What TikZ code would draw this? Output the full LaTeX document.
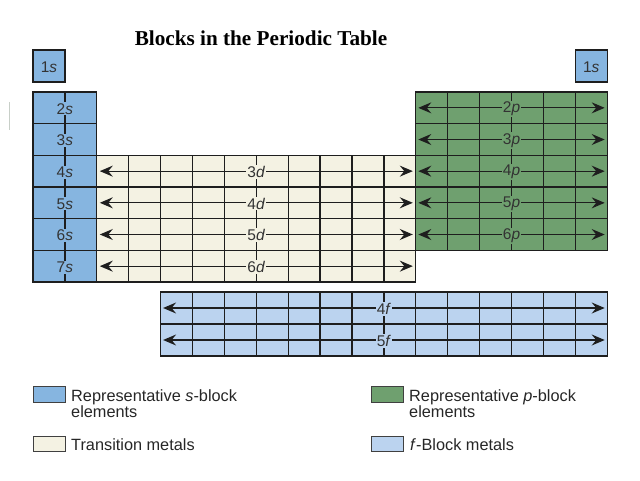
\documentclass[tikz,border=0pt]{standalone}
\usepackage{fontspec}
\setmainfont{Liberation Sans}
\newfontfamily\titlefont{Liberation Serif}
\usetikzlibrary{arrows.meta}
\definecolor{sblue}{HTML}{86B5E0}
\definecolor{pgreen}{HTML}{6FA06F}
\definecolor{dcream}{HTML}{F4F2E3}
\definecolor{fblue}{HTML}{BBD3EF}
\definecolor{gridc}{HTML}{1E1E1E}
\tikzset{
  gridline/.style={draw=gridc, line width=1.25pt},
  dblarrow/.style={draw=gridc, line width=1.25pt, {Stealth[length=13pt,width=11pt,inset=4.5pt]}-{Stealth[length=13pt,width=11pt,inset=4.5pt]}},
  cell/.style={font=\fontsize{15.5}{15.5}\selectfont, text=black!80, inner sep=1pt},
  legtext/.style={font=\fontsize{16.3}{16}\selectfont, text=black!85, inner sep=0pt, align=left},
  legbox/.style={draw=black!75, line width=1pt}
}
\begin{document}
\begin{tikzpicture}[x=1pt,y=-1pt]
\useasboundingbox (0,0) rectangle (640,480);
\def\W{31.9}
\def\H{31.67}
% title
\node[font=\titlefont\bfseries\fontsize{21.2}{21}\selectfont, anchor=base] (title) at (261,45) {Blocks in the Periodic Table};
% artifact
\draw[color=black!15!green!8!gray!40, line width=1pt] (9,102) -- (9,130);
% fills
\fill[sblue] (33,92) rectangle (96.8,282);
\fill[dcream] (96.8,155.3) rectangle (415.8,282);
\fill[pgreen] (415.8,92) rectangle (607.2,250.3);
\fill[fblue] (160.6,292) rectangle (607.2,356);
\fill[sblue] (33,50) rectangle (64.9,82);
\fill[sblue] (575.3,50) rectangle (607.2,82);
% 1s boxes
\draw[gridline] (33,50) rectangle (64.9,82);
\draw[gridline] (575.3,50) rectangle (607.2,82);
\node[cell, fill=sblue] (s1a) at (48.95,67) {1\textit{s}};
\node[cell, fill=sblue] (s1b) at (591.25,67) {1\textit{s}};
% s-block grid
\draw[gridline] (33,92) rectangle (96.8,282);
\foreach \r in {1,...,5} \draw[gridline] (33,92+\r*\H) -- (96.8,92+\r*\H);
\draw[gridline] (64.9,92) -- (64.9,282);
% d-block grid
\draw[gridline] (96.8,155.3) rectangle (415.8,282);
\foreach \r in {1,...,3} \draw[gridline] (96.8,155.3+\r*\H) -- (415.8,155.3+\r*\H);
\foreach \k in {3,...,11} \draw[gridline] (33+\k*\W,155.3) -- (33+\k*\W,282);
% p-block grid
\draw[gridline] (415.8,92) rectangle (607.2,250.3);
\foreach \r in {1,...,4} \draw[gridline] (415.8,92+\r*\H) -- (607.2,92+\r*\H);
\foreach \k in {13,...,17} \draw[gridline] (33+\k*\W,92) -- (33+\k*\W,250.3);
% f-block grid
\draw[gridline] (160.6,292) rectangle (607.2,356);
\draw[gridline] (160.6,324) -- (607.2,324);
\foreach \k in {5,...,17} \draw[gridline] (33+\k*\W,292) -- (33+\k*\W,356);
% d arrows
\foreach \n [count=\i from 0] in {3,4,5,6} {
  \coordinate (dl\n) at (99.8,155.3+\i*\H+0.5*\H);
  \coordinate (dr\n) at (412.8,155.3+\i*\H+0.5*\H);
  \draw[dblarrow] (dl\n) -- (dr\n);
}
% p arrows
\foreach \n [count=\i from 0] in {2,3,4,5,6} {
  \coordinate (pl\n) at (418.3,92+\i*\H+0.5*\H);
  \coordinate (pr\n) at (604.7,92+\i*\H+0.5*\H);
  \draw[dblarrow] (pl\n) -- (pr\n);
}
% f arrows
\foreach \n [count=\i from 0] in {4,5} {
  \coordinate (fl\n) at (163.1,308+\i*32);
  \coordinate (fr\n) at (604.7,308+\i*32);
  \draw[dblarrow] (fl\n) -- (fr\n);
}
% labels
\foreach \n [count=\i from 0] in {2,...,7}
  \node[cell, fill=sblue] (s\n) at (64.9,93+\i*\H+0.5*\H) {\n\textit{s}};
\foreach \n [count=\i from 0] in {3,4,5,6}
  \node[cell, fill=dcream] (d\n) at (33+7*\W,156+\i*\H+0.5*\H) {\n\textit{d}};
\foreach \n [count=\i from 0] in {2,...,6}
  \node[cell, fill=pgreen] (p\n) at (33+15*\W,93+\i*\H+0.5*\H) {\n\textit{p}};
\foreach \n [count=\i from 0] in {4,5}
  \node[cell, fill=fblue] (f\n) at (33+11*\W,309+\i*32) {\n\textit{f}};
% legend
\draw[legbox, fill=sblue] (33,386) rectangle (65,402);
\node[legtext, anchor=north west] (ls) at (71,389) {Representative \textit{s}-block\\elements};
\draw[legbox, fill=dcream] (33,436) rectangle (65,451);
\node[legtext, anchor=base west] (ld) at (71,450) {Transition metals};
\draw[legbox, fill=pgreen] (371,386) rectangle (403,402);
\node[legtext, anchor=north west] (lp) at (409,389) {Representative \textit{p}-block\\elements};
\draw[legbox, fill=fblue] (371,436) rectangle (403,451);
\node[legtext, anchor=base west] (lf) at (410,450) {\textit{f}-Block metals};
\end{tikzpicture}
\end{document}
